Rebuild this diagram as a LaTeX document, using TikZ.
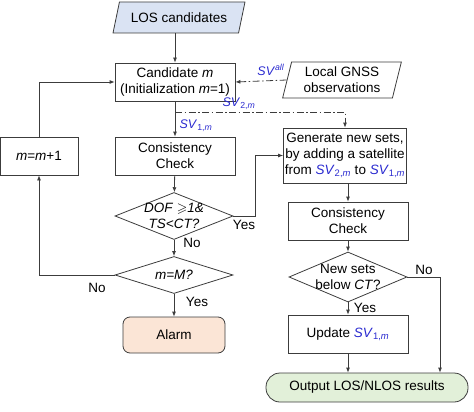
\documentclass[tikz,border=0pt]{standalone}
\usepackage{fontspec}
\setmainfont{Liberation Sans}
\usepackage{amssymb}
\usetikzlibrary{shapes.geometric,arrows.meta}
\definecolor{losblue}{HTML}{DAE3F3}
\definecolor{alarmfill}{HTML}{FBE5D6}
\definecolor{outfill}{HTML}{E2F0D9}
\definecolor{svblue}{HTML}{2B2BD0}
\definecolor{linegray}{HTML}{3C3C3C}
\newcommand{\sv}[1]{\textcolor{svblue}{\textit{SV}\textsubscript{#1}}}
\newcommand{\svall}{\textcolor{svblue}{\textit{SV}\textsuperscript{\textit{all}}}}
\tikzset{
  every node/.style={font=\fontsize{13.5}{16}\selectfont},
  box/.style={draw, align=center, minimum width=120pt, minimum height=38pt, inner sep=1pt},
  decision/.style={draw, diamond, inner sep=0pt, minimum width=118pt, minimum height=47pt},
  dataio/.style={draw, trapezium, trapezium stretches=true, align=center, inner sep=1pt},
  arr/.style={-{Latex[length=5pt,width=4pt]}},
  svline/.style={dash pattern=on 7pt off 2.5pt on 1.5pt off 2.5pt},
  small/.style={font=\fontsize{12.5}{14}\selectfont}
}
\begin{document}
\begin{tikzpicture}[x=1pt,y=-1pt,line width=0.8pt,draw=linegray]
    \useasboundingbox (0,0) rectangle (474,412);
    \node[dataio, fill=losblue, trapezium left angle=66, trapezium right angle=114,
          minimum width=132pt, minimum height=31pt] (los) at (179,17.5) {LOS candidates};
    \node[box] (cand) at (175,82) {Candidate \textit{m}\\(Initialization \textit{m}=1)};
    \node[dataio, trapezium left angle=76, trapezium right angle=104,
          minimum width=119pt, minimum height=36pt] (gnss) at (342,80) {Local GNSS\\observations};
    \node[box] (cc) at (175,156) {Consistency\\Check};
    \node[box, minimum width=78pt] (mbox) at (39,156) {\textit{m}=\textit{m}+1};
    \node[decision] (dof) at (174,216) {};
    \node[align=center] at (dof) {\textit{DOF} $\geqslant$\textit{1\&}\\\textit{TS<CT?}};
    \node[decision, minimum height=37pt] (mm) at (174,275) {};
    \node at (mm) {\textit{m=M?}};
    \node[draw, fill=alarmfill, rounded corners=7pt, minimum width=102pt, minimum height=36pt] (alarm) at (174,335) {Alarm};
    \node[box, minimum width=123pt, minimum height=55pt] (gen) at (345,155.5)
        {Generate new sets,\\by adding a satellite\\from \sv{2,\textit{m}} to \sv{1,\textit{m}}};
    \node[box] (cc2) at (348,221) {Consistency\\Check};
    \node[decision, minimum height=50pt] (ns) at (348,277) {};
    \node[align=center] at (ns) {New sets\\below \textit{CT}?};
    \node[box] (upd) at (348,334) {Update \sv{1,\textit{m}}};
    \node[draw, fill=outfill, rounded corners=14pt, minimum width=202pt, minimum height=29pt] (out) at (367,387.5)
        {Output LOS/NLOS results};
    \coordinate (split) at (175,112);
    \coordinate (yesturn) at (255,216);
    \coordinate (noturn) at (440,277);
    \draw[arr] (los.south -| cand.north) -- (cand);
    \draw[arr] (cand) -- (cc);
    \draw[arr] (cc) -- (dof);
    \draw[arr] (dof) -- (mm);
    \draw[arr] (mm) -- (alarm);
    \draw[arr] (mm.west) -| (mbox.south);
    \draw[arr] (mbox.north) |- (cand.west);
    \draw[arr, svline] (gnss.west) -- (cand.east);
    \draw[arr, svline] (split) -| (gen.north);
    \draw[arr] (dof.east) -- (yesturn) |- (gen.west);
    \draw[arr] (gen.south -| cc2.north) -- (cc2);
    \draw[arr] (cc2) -- (ns);
    \draw[arr] (ns) -- (upd);
    \draw[arr] (upd.south) -- (upd.south |- out.north);
    \draw[arr] (ns.east) -- (noturn) -- (noturn |- out.north);
    \node[small] at (271,70) {\svall};
    \node[small] at (239,104) {\sv{2,\textit{m}}};
    \node[small] at (196,126) {\sv{1,\textit{m}}};
    \node at (244,225) {Yes};
    \node at (192,243) {No};
    \node at (97,288) {No};
    \node at (197,302) {Yes};
    \node at (424,270) {No};
    \node at (365,308) {Yes};
\end{tikzpicture}
\end{document}
